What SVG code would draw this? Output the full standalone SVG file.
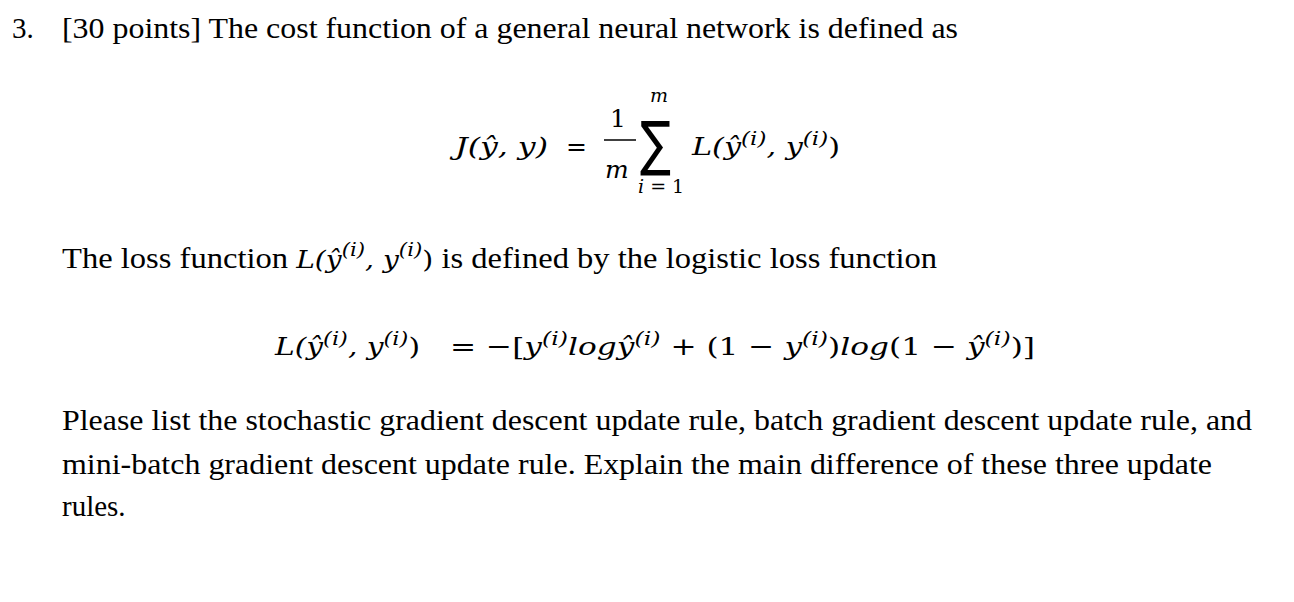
<svg xmlns="http://www.w3.org/2000/svg" width="1294" height="602" viewBox="0 0 1294 602">
<style>
.t{font-family:"Liberation Serif",serif;font-size:29px;fill:#000}
.m{font-family:"DejaVu Serif","Liberation Serif",serif;font-size:25px;font-style:italic;fill:#000}
.r{font-style:normal}
.s{font-size:19px}
</style>
<rect width="1294" height="602" fill="#fff"/>
<text class="t" x="12" y="38">3.</text>
<text class="t" x="62" y="38" textLength="896" lengthAdjust="spacingAndGlyphs">[30 points] The cost function of a general neural network is defined as</text>
<g id="eq1">
<text class="m" x="455" y="155" textLength="93" lengthAdjust="spacingAndGlyphs">J(ŷ, y)</text>
<text class="m r" x="566" y="155">=</text>
<text class="m r" x="610" y="127">1</text>
<line x1="604" y1="140" x2="636" y2="140" stroke="#000" stroke-width="1.5"/>
<text class="m" x="605" y="178">m</text>
<text class="m s" x="650" y="102">m</text>
<text transform="translate(640,164) scale(1,1.3)" font-family="DejaVu Sans,sans-serif" font-size="46" fill="#000">∑</text>
<text class="m s" x="638" y="193">i <tspan class="r">= 1</tspan></text>
<text class="m" x="692" y="155" textLength="148" lengthAdjust="spacingAndGlyphs">L(ŷ<tspan class="s" dy="-10">(i)</tspan><tspan dy="10">, y</tspan><tspan class="s" dy="-10">(i)</tspan><tspan class="r" dy="10">)</tspan></text>
</g>
<text class="t" x="62" y="268" textLength="875" lengthAdjust="spacingAndGlyphs">The loss function <tspan class="m">L(ŷ</tspan><tspan class="m s" dy="-12">(i)</tspan><tspan class="m" dy="12">, y</tspan><tspan class="m s" dy="-12">(i)</tspan><tspan class="m r" dy="12">)</tspan> is defined by the logistic loss function</text>
<g id="eq2">
<text class="m" x="275" y="355" textLength="145" lengthAdjust="spacingAndGlyphs">L(ŷ<tspan class="s" dy="-10">(i)</tspan><tspan dy="10">, y</tspan><tspan class="s" dy="-10">(i)</tspan><tspan class="r" dy="10">)</tspan></text>
<text class="m" x="450" y="355" textLength="585" lengthAdjust="spacingAndGlyphs"><tspan class="r">= −[</tspan>y<tspan class="s" dy="-10">(i)</tspan><tspan dy="10">logŷ</tspan><tspan class="s" dy="-10">(i)</tspan><tspan class="r" dy="10">  +  (1 − </tspan>y<tspan class="s" dy="-10">(i)</tspan><tspan class="r" dy="10">)</tspan>log<tspan class="r">(1 − </tspan>ŷ<tspan class="s" dy="-10">(i)</tspan><tspan class="r" dy="10">)]</tspan></text>
</g>
<text class="t" x="62" y="430" textLength="1190" lengthAdjust="spacingAndGlyphs">Please list the stochastic gradient descent update rule, batch gradient descent update rule, and</text>
<text class="t" x="62" y="474" textLength="1150" lengthAdjust="spacingAndGlyphs">mini-batch gradient descent update rule. Explain the main difference of these three update</text>
<text class="t" x="62" y="516">rules.</text>
</svg>
